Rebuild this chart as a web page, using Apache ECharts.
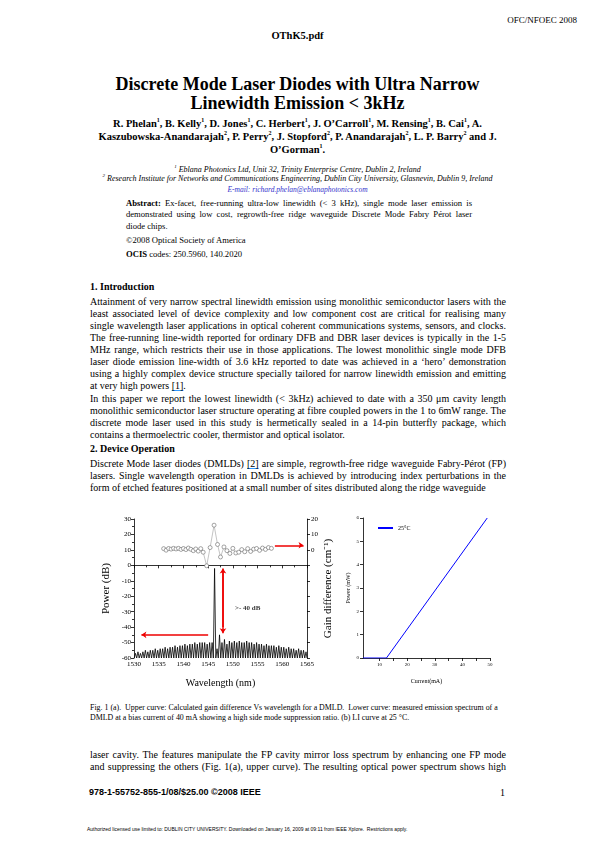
<!DOCTYPE html>
<html><head><meta charset="utf-8">
<script src="https://cdn.jsdelivr.net/npm/echarts@6/dist/echarts.min.js"></script>
<style>
body{margin:0;width:595px;height:842px;position:relative;background:#fff;font-family:"Liberation Serif","DejaVu Serif",serif;color:#000;overflow:hidden}
.t{position:absolute;white-space:nowrap;line-height:1}
.j{position:absolute;left:90px;width:416px;font-size:10px;line-height:1;text-align:justify;text-align-last:justify;white-space:nowrap}
.j.e{text-align-last:left}
.c{position:absolute;left:0;width:595px;text-align:center;line-height:1}
a{color:#000;text-decoration:underline;text-decoration-color:#39f}
#chart{position:absolute;left:0;top:500px;width:595px;height:200px}
</style></head><body>
<div class="t" style="right:18px;top:16px;font-size:9px">OFC/NFOEC 2008</div>
<div class="c" style="top:31px;font-size:10.5px;font-weight:bold">OThK5.pdf</div>
<div class="c" style="top:75px;font-size:18px;font-weight:bold">Discrete Mode Laser Diodes with Ultra Narrow</div>
<div class="c" style="top:94px;font-size:18px;font-weight:bold">Linewidth Emission &lt; 3kHz</div>
<div class="c" style="top:117px;font-size:10.5px;font-weight:bold">R. Phelan<sup style="font-size:6px">1</sup>, B. Kelly<sup style="font-size:6px">1</sup>, D. Jones<sup style="font-size:6px">1</sup>, C. Herbert<sup style="font-size:6px">1</sup>, J. O’Carroll<sup style="font-size:6px">1</sup>, M. Rensing<sup style="font-size:6px">1</sup>, B. Cai<sup style="font-size:6px">1</sup>, A.</div>
<div class="c" style="top:130px;font-size:10.5px;font-weight:bold">Kaszubowska-Anandarajah<sup style="font-size:6px">2</sup>, P. Perry<sup style="font-size:6px">2</sup>, J. Stopford<sup style="font-size:6px">2</sup>, P. Anandarajah<sup style="font-size:6px">2</sup>, L. P. Barry<sup style="font-size:6px">2</sup> and J.</div>
<div class="c" style="top:143px;font-size:10.5px;font-weight:bold">O’Gorman<sup style="font-size:6px">1</sup>.</div>
<div class="c" style="top:164px;font-size:8px;font-style:italic"><sup style="font-size:5px">1</sup> Eblana Photonics Ltd, Unit 32, Trinity Enterprise Centre, Dublin 2, Ireland</div>
<div class="c" style="top:173px;font-size:8px;font-style:italic"><sup style="font-size:5px">2</sup> Research Institute for Networks and Communications Engineering, Dublin City University, Glasnevin, Dublin 9, Ireland</div>
<div class="c" style="top:186px;font-size:7.5px;font-style:italic;color:#33c">E-mail: richard.phelan@eblanaphotonics.com</div>
<div class="j" style="left:126px;width:346px;top:199px;font-size:8.6px"><b>Abstract:</b> Ex-facet, free-running ultra-low linewidth (&lt; 3 kHz), single mode laser emission is</div>
<div class="j" style="left:126px;width:346px;top:210px;font-size:8.6px">demonstrated using low cost, regrowth-free ridge waveguide Discrete Mode Fabry Pérot laser</div>
<div class="j e" style="left:126px;width:346px;top:222px;font-size:8.6px">diode chips.</div>
<div class="t" style="left:126px;top:236px;font-size:8.6px">©2008 Optical Society of America</div>
<div class="t" style="left:126px;top:250px;font-size:8.6px"><b>OCIS</b> codes: 250.5960, 140.2020</div>
<div class="t" style="left:90px;top:282px;font-size:10px;font-weight:bold">1. Introduction</div>
<div class="j" style="top:297px">Attainment of very narrow spectral linewidth emission using monolithic semiconductor lasers with the</div>
<div class="j" style="top:309px">least associated level of device complexity and low component cost are critical for realising many</div>
<div class="j" style="top:321px">single wavelength laser applications in optical coherent communications systems, sensors, and clocks.</div>
<div class="j" style="top:333px">The free-running line-width reported for ordinary DFB and DBR laser devices is typically in the 1-5</div>
<div class="j" style="top:345px">MHz range, which restricts their use in those applications. The lowest monolithic single mode DFB</div>
<div class="j" style="top:357px">laser diode emission line-width of 3.6 kHz reported to date was achieved in a ‘hero’ demonstration</div>
<div class="j" style="top:369px">using a highly complex device structure specially tailored for narrow linewidth emission and emitting</div>
<div class="j e" style="top:381px">at very high powers <a>[1]</a>.</div>
<div class="j" style="top:394px">In this paper we report the lowest linewidth (&lt; 3kHz) achieved to date with a 350 μm cavity length</div>
<div class="j" style="top:406px">monolithic semiconductor laser structure operating at fibre coupled powers in the 1 to 6mW range. The</div>
<div class="j" style="top:418px">discrete mode laser used in this study is hermetically sealed in a 14-pin butterfly package, which</div>
<div class="j e" style="top:430px">contains a thermoelectric cooler, thermistor and optical isolator.</div>
<div class="t" style="left:90px;top:444px;font-size:10px;font-weight:bold">2. Device Operation</div>
<div class="j" style="top:459px">Discrete Mode laser diodes (DMLDs) <a>[2]</a> are simple, regrowth-free ridge waveguide Fabry-Pérot (FP)</div>
<div class="j" style="top:471px">lasers. Single wavelength operation in DMLDs is achieved by introducing index perturbations in the</div>
<div class="j e" style="top:483px">form of etched features positioned at a small number of sites distributed along the ridge waveguide</div>
<div id="chart"></div>
<div class="t" style="left:90px;top:704px;font-size:7.9px">Fig. 1 (a).&nbsp; Upper curve: Calculated gain difference Vs wavelength for a DMLD.&nbsp; Lower curve: measured emission spectrum of a</div>
<div class="t" style="left:90px;top:714px;font-size:7.9px">DMLD at a bias current of 40 mA showing a high side mode suppression ratio. (b) LI curve at 25 °C.</div>
<div class="j" style="top:750px">laser cavity. The features manipulate the FP cavity mirror loss spectrum by enhancing one FP mode</div>
<div class="j" style="top:762px">and suppressing the others (Fig. 1(a), upper curve). The resulting optical power spectrum shows high</div>
<div class="t" style="left:89px;top:788px;font-size:9px;font-weight:bold;font-family:'Liberation Sans',sans-serif">978-1-55752-855-1/08/$25.00 ©2008 IEEE</div>
<div class="t" style="left:500px;top:788px;font-size:10px">1</div>
<div class="t" style="left:87px;top:827px;font-size:5px;font-family:'Liberation Sans',sans-serif">Authorized licensed use limited to: DUBLIN CITY UNIVERSITY. Downloaded on January 16, 2009 at 09:11 from IEEE Xplore.&nbsp; Restrictions apply.</div>
<script>
// ---- data ----
const peakStart = 1530.3, modeSpacing = 0.5;
const peakPower = [-57,-56,-57,-56,-55,-56,-55,-55,-54,-55,-54,-54,-53,-54,-53,-53,-52,-53,-52,-52,-51,-52,-51,-51,-50,-51,-50,-50,-50,-51,-50,-50,
 -2,-54,-45,-50,-48,-51,-49,-50,-49,
 -50,-49,-50,-50,-49,-50,-50,-51,-50,-51,-51,-52,-51,-52,-52,-52,-53,-52,-53,-53,-54,-53,-54,-54,-55,-54,-55,-55,-56];
const troughPower = -60;
const gainWl = [1536,1536.5,1537,1537.5,1538,1538.5,1539,1539.5,1540,1540.5,1541,1541.5,1542,1542.5,1543,1543.5,1544,1544.7,1545.4,1546.2,1546.9,1547.5,1548.2,1548.8,1549.4,1550,1550.6,1551.2,1551.8,1552.4,1553,1553.6,1554.2,1554.8,1555.4,1556,1556.6,1557.2,1557.8];
const gainVal = [0.8,-0.2,0.9,0.5,1.0,0.6,1.0,0.3,0.9,0.2,1.2,0.4,-0.5,0.6,-0.8,0.8,-1.5,-10.3,1.5,16,3.5,-4.6,1.9,-0.5,-2.3,1.0,-2.0,-1.5,0.2,-1.2,0.8,-1.0,0.5,0.9,-0.3,1.2,0.3,1.5,1.0];
const liCurrent = [4,12.5,49];
const liPower = [0,0,6];
const smsrLabel = '>- 40 dB';

const spec = [];
peakPower.forEach((p,i)=>{const w=peakStart+i*modeSpacing; spec.push([w-0.25,troughPower],[w,p]);});
spec.push([1565,troughPower]);

const font = {fontFamily:'Liberation Serif',color:'#000'};
const ax = {lineStyle:{color:'#000',width:0.8}};
const chart = echarts.init(document.getElementById('chart'));
chart.setOption({
 animation:false,
 grid:[{left:134,top:19,width:173,height:139},{left:363,top:18,width:127,height:140}],
 xAxis:[
  {gridIndex:0,type:'value',min:1530,max:1565,interval:5,axisLine:ax,axisTick:{lineStyle:ax.lineStyle,length:3},
   minorTick:{show:true,splitNumber:2,length:2,lineStyle:ax.lineStyle},splitLine:{show:false},
   axisLabel:{...font,fontSize:7,margin:3,formatter:v=>String(v)},name:'Wavelength (nm)',nameLocation:'middle',nameGap:20,nameTextStyle:{...font,fontSize:10}},
  {gridIndex:1,type:'value',min:4,max:50,axisLine:ax,
   axisTick:{customValues:[10,15,20,25,30,35,40,45,50],lineStyle:ax.lineStyle,length:3},
   axisLabel:{customValues:[10,20,30,40,50],...font,fontSize:5,margin:4},splitLine:{show:false},
   name:'Current(mA)',nameLocation:'middle',nameGap:20,nameTextStyle:{...font,fontSize:6}}
 ],
 yAxis:[
  {gridIndex:0,type:'value',min:-60,max:30,interval:10,axisLine:{show:true,...ax},axisTick:{lineStyle:ax.lineStyle,length:3},
   minorTick:{show:true,splitNumber:2,length:2,lineStyle:ax.lineStyle},splitLine:{show:false},
   axisLabel:{...font,fontSize:7,margin:3},name:'Power (dB)',nameLocation:'middle',nameGap:22,nameTextStyle:{...font,fontSize:11}},
  {gridIndex:0,type:'value',position:'right',min:-70,max:20,interval:10,axisLine:{show:true,...ax},
   axisTick:{lineStyle:ax.lineStyle,length:3},splitLine:{show:false},
   axisLabel:{...font,fontSize:7,margin:4,formatter:v=>v>=0?String(v):''},
   name:'Gain difference (cm⁻¹)',nameLocation:'middle',nameGap:16,nameRotate:90,nameTextStyle:{...font,fontSize:11}},
  {gridIndex:1,type:'value',min:0,max:6,interval:1,axisLine:{show:true,...ax},axisTick:{lineStyle:ax.lineStyle,length:3},
   splitLine:{show:false},axisLabel:{...font,fontSize:5,margin:4},
   name:'Power (mW)',nameLocation:'middle',nameGap:12,nameTextStyle:{...font,fontSize:6}}
 ],
 legend:{left:373,top:20,itemWidth:15,itemHeight:2,icon:'rect',textStyle:{...font,fontSize:6},data:['25°C']},
 series:[
  {type:'line',xAxisIndex:0,yAxisIndex:0,data:spec,showSymbol:false,lineStyle:{color:'#000',width:0.8},
   markLine:{silent:true,symbol:['none','arrow'],symbolSize:5,label:{show:false},lineStyle:{color:'#e00',width:1.5,type:'solid'},
    data:[[{coord:[1545,-45]},{coord:[1531.5,-45]}],[{coord:[1548,-4]},{coord:[1548,-44]}],[{coord:[1548,-40]},{coord:[1548,-2]}],
          [{coord:[1558.5,13]},{coord:[1564.3,13]}]]}},
  {type:'scatter',xAxisIndex:0,yAxisIndex:0,data:[[1553,-28]],symbolSize:0,silent:true,
   label:{show:true,position:'inside',formatter:smsrLabel,fontSize:7,fontWeight:'bold',...font}},
  {type:'line',xAxisIndex:0,yAxisIndex:1,data:gainWl.map((w,i)=>[w,gainVal[i]]),symbol:'circle',symbolSize:4,
   itemStyle:{color:'#fff',borderColor:'#666',borderWidth:0.6},lineStyle:{color:'#888',width:0.5}},
  {type:'line',name:'25°C',xAxisIndex:1,yAxisIndex:2,data:liCurrent.map((c,i)=>[c,liPower[i]]),showSymbol:false,
   lineStyle:{color:'#00f',width:1},itemStyle:{color:'#00f'}}
 ]
});
</script>
</body></html>
